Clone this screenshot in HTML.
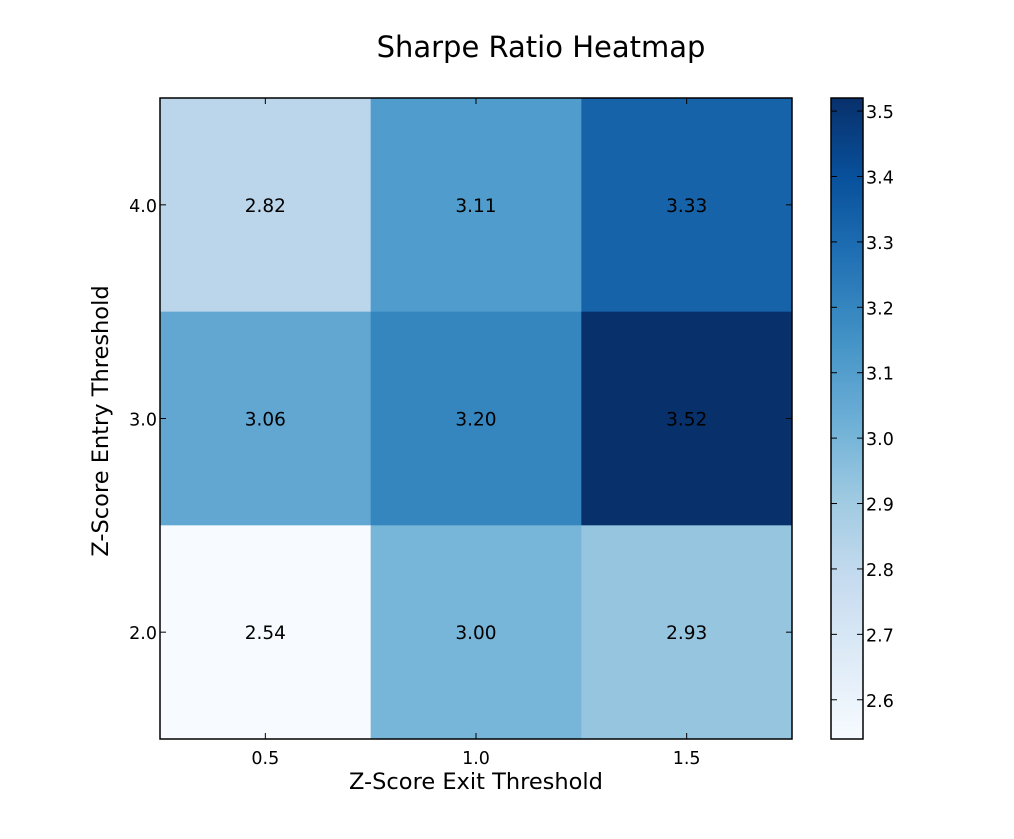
<!DOCTYPE html>
<html><head><meta charset="utf-8"><style>body{margin:0;background:#fff}svg{display:block;font-family:"DejaVu Sans","Liberation Sans",sans-serif}</style></head>
<body>
<svg id="c" width="1014" height="839">
<text x="541" y="57" font-size="29" text-anchor="middle">Sharpe Ratio Heatmap</text>
<text x="476" y="789" font-size="22.5" text-anchor="middle">Z-Score Exit Threshold</text>
<text transform="translate(108,421) rotate(-90)" font-size="22.5" text-anchor="middle">Z-Score Entry Threshold</text>
<g id="cells"></g>
<g id="cbar"></g>
</svg>
<script>
const xCats=["0.5","1.0","1.5"];
const yCats=["4.0","3.0","2.0"];
const rowTop=[2.82,3.11,3.33];
const rowMid=[3.06,3.20,3.52];
const rowBot=[2.54,3.00,2.93];
const cbTicks=[2.6,2.7,2.8,2.9,3.0,3.1,3.2,3.3,3.4,3.5];
const vmin=2.54, vmax=3.52;
const L=160,R=792,T=98,B=739,CL=831,CR=863;
const blues=["#f7fbff","#deebf7","#c6dbef","#9ecae1","#6baed6","#4292c6","#2171b5","#08519c","#08306b"];
function hx(h){return [1,3,5].map(i=>parseInt(h.substr(i,2),16));}
function cmap(v){let t=Math.max(0,Math.min(1,(v-vmin)/(vmax-vmin)))*8;let i=Math.min(7,Math.floor(t));let f=t-i;let a=hx(blues[i]),b=hx(blues[i+1]);return "rgb("+a.map((x,k)=>Math.round(x+(b[k]-x)*f)).join(",")+")";}
const NS="http://www.w3.org/2000/svg";
function el(t,a,p){const e=document.createElementNS(NS,t);for(const k in a)e.setAttribute(k,a[k]);p.appendChild(e);return e;}
const cw=(R-L)/xCats.length, ch=(B-T)/yCats.length;
const xs=i=>L+cw*i, ys=j=>T+ch*j;
const rows=[rowTop,rowMid,rowBot];
const g=document.getElementById('cells');
rows.forEach((row,j)=>row.forEach((v,i)=>{
 const r=el('rect',{x:xs(i),y:ys(j),width:cw+0.5,height:ch+0.5,fill:cmap(v)},g);
 
 
 const t=el('text',{x:xs(i)+cw/2,y:ys(j)+ch/2+7,'font-size':18.5,'text-anchor':'middle'},g);
 t.textContent=v.toFixed(2);
 
 
}));
const fr=el('rect',{x:L,y:T,width:R-L,height:B-T,fill:'none',stroke:'#000','stroke-width':1.5},g);


xCats.forEach((c,i)=>{const x=xs(i)+cw/2;
 el('line',{x1:x,x2:x,y1:B,y2:B-6,stroke:'#000'},g);el('line',{x1:x,x2:x,y1:T,y2:T+6,stroke:'#000'},g);
 const t=el('text',{x:x,y:B+25,'font-size':17.5,'text-anchor':'middle'},g);t.textContent=c;
 
 });
yCats.forEach((c,j)=>{const y=ys(j)+ch/2;
 el('line',{x1:L,x2:L+6,y1:y,y2:y,stroke:'#000'},g);el('line',{x1:R,x2:R-6,y1:y,y2:y,stroke:'#000'},g);
 const t=el('text',{x:L-3,y:y+7,'font-size':17.5,'text-anchor':'end'},g);t.textContent=c;
 
 });
const cb=document.getElementById('cbar');
const defs=el('defs',{},cb);const lg=el('linearGradient',{id:'bg',x1:0,y1:1,x2:0,y2:0},defs);
for(let k=0;k<=40;k++){el('stop',{offset:k/40,'stop-color':cmap(vmin+(vmax-vmin)*k/40)},lg);}
const cr=el('rect',{x:CL,y:T,width:CR-CL,height:B-T,fill:'url(#bg)',stroke:'#000','stroke-width':1.5},cb);


const cy=v=>B-(v-vmin)/(vmax-vmin)*(B-T);
cbTicks.forEach(v=>{const y=cy(v);
 el('line',{x1:CR,x2:CR-6,y1:y,y2:y,stroke:'#000'},cb);el('line',{x1:CL,x2:CL+6,y1:y,y2:y,stroke:'#000'},cb);
 const t=el('text',{x:CR+3,y:y+7,'font-size':17.5},cb);t.textContent=v.toFixed(1);
 
 });
</script>
</body></html>
